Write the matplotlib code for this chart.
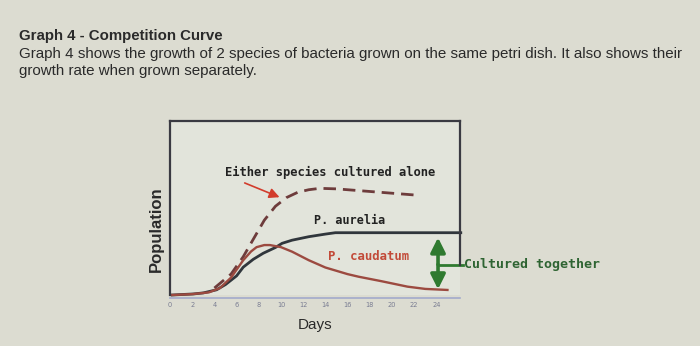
import matplotlib.pyplot as plt
from matplotlib.patches import FancyArrowPatch

# Data (days, relative population)
days_tick = [0, 2, 4, 6, 8, 10, 12, 14, 16, 18, 20, 22, 24]
tick_marks = [2, 6, 10, 14, 16, 22]

alone_days = [4.0, 5.5, 6.6, 7.5, 8.5, 9.5, 10.5, 11.5, 12.5, 13.5, 15, 17, 19, 21, 22]
alone_pop = [4, 12, 22, 32, 43, 51, 56, 59, 60.5, 61.3, 61, 60, 59, 58, 57.5]

aurelia_days = [0.2, 2.1, 3, 4.2, 5, 6, 6.6, 7.5, 8.4, 9.5, 10.1, 11, 12.5, 14, 14.9, 18.4, 26.2]
aurelia_pop = [0, 0.6, 1.2, 3, 6, 11, 16, 20.5, 24, 27.3, 29.7, 31.5, 33.5, 35, 35.8, 35.8, 35.8]

caudatum_days = [0.2, 2, 3.5, 4.5, 5.5, 6.6, 7.3, 7.8, 8.5, 9, 10, 11, 12.5, 14, 16, 17, 19, 21.4, 23, 25]
caudatum_pop = [0, 0.5, 1.5, 4, 10, 20, 25, 27.5, 28.7, 28.7, 27.5, 24.9, 20, 15.8, 12, 10.5, 8, 4.8, 3.5, 2.9]

fig = plt.figure(figsize=(7, 3.46), dpi=100, facecolor='#dcdcd1')

# Header text
sans = ['Liberation Sans']
fig.text(19 / 700, 1 - 36 / 346, 'Graph 4 - Competition Curve', fontsize=10.8,
         fontweight='bold', color='#2a2a2a', va='center', family=sans)
fig.text(19 / 700, 1 - 54 / 346,
         'Graph 4 shows the growth of 2 species of bacteria grown on the same petri dish. It also shows their',
         fontsize=10.9, color='#2a2a2a', va='center', family=sans)
fig.text(19 / 700, 1 - 71 / 346, 'growth rate when grown separately.', fontsize=10.9,
         color='#2a2a2a', va='center', family=sans)

# Axes box: 170..460 px wide, 121..295 px tall
ax = fig.add_axes([170 / 700, 1 - 295 / 346, 290 / 700, 174 / 346])
ax.set_facecolor('#e2e4db')
ax.set_xlim(0.356, 26.13)
ax.set_ylim(0, 100)

for s in ['left', 'top', 'right']:
    ax.spines[s].set_color('#3a3a42')
    ax.spines[s].set_linewidth(1.6)
ax.spines['right'].set_bounds(17, 100)
ax.spines['bottom'].set_position(('outward', 2))
ax.spines['bottom'].set_color('#a3aacb')
ax.spines['bottom'].set_linewidth(1.2)

ax.set_yticks([])
ax.set_xticks(days_tick)
ax.set_xticklabels([str(d) for d in days_tick])
ax.tick_params(axis='x', length=0, labelsize=4.8, labelcolor='#7a7d92', pad=3)
ax.set_xticks(tick_marks, minor=True)
ax.tick_params(axis='x', which='minor', direction='in', length=5, width=1, color='#333333')

# Curves
ax.plot(alone_days, alone_pop, color='#6e3c3c', linewidth=2, dashes=(4.5, 2.5))
ax.plot(aurelia_days, aurelia_pop, color='#30363c', linewidth=2, clip_on=False)
ax.plot(caudatum_days, caudatum_pop, color='#9c4a40', linewidth=1.7, clip_on=False)

# Labels in plot
mono = ['DejaVu Sans Mono']
ax.text(14.4, 70.7, 'Either species cultured alone', fontsize=8.7, fontweight='bold',
        color='#222222', ha='center', va='center', family=mono)
ax.text(16.2, 43, 'P. aurelia', fontsize=8.5, fontweight='bold',
        color='#222222', ha='center', va='center', family=mono)
ax.text(17.9, 22, 'P. caudatum', fontsize=8.8, fontweight='bold',
        color='#c24a38', ha='center', va='center', family=mono)

# Red pointer arrow
ax.add_patch(FancyArrowPatch((6.5, 65), (10.1, 55.6), arrowstyle='-|>',
                             mutation_scale=15, color='#d23c2c', linewidth=1.2))

# Green double arrow + connector
green = '#2f7a30'
ax.add_patch(FancyArrowPatch((24.15, 17.5), (24.15, 33), arrowstyle='-|>',
                             mutation_scale=22, color=green, linewidth=2.6,
                             shrinkA=0, shrinkB=0))
ax.add_patch(FancyArrowPatch((24.15, 17.5), (24.15, 3.3), arrowstyle='-|>',
                             mutation_scale=22, color=green, linewidth=2.6,
                             shrinkA=0, shrinkB=0))
ax.plot([24.15, 26.4], [17.5, 17.5], color=green, linewidth=2, clip_on=False)
ax.text(26.45, 17.5, 'Cultured together', fontsize=9.5, fontweight='bold',
        color='#2e6432', ha='left', va='center', family=mono, clip_on=False)

ax.set_xlabel('Days', fontsize=11, color='#2a2a2a', labelpad=7, family=sans)
ax.set_ylabel('Population', fontsize=12, fontweight='bold', color='#2a2a2a', family=sans)
ax.yaxis.set_label_coords(-0.02, 0.38)

fig.savefig('out.png', dpi=100, facecolor=fig.get_facecolor())
